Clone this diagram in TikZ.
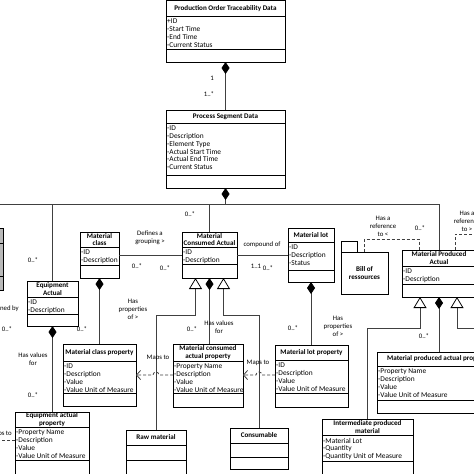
\documentclass[tikz,border=0pt]{standalone}
\usepackage{fontspec}
\setmainfont{Carlito}
\usetikzlibrary{arrows.meta,calc}
\tikzset{
 umlbox/.style={draw=black, line width=0.8pt, inner sep=0pt, outer sep=0pt},
 ttl/.style={font=\bfseries\fontsize{7.1}{7.9}\selectfont, align=center, inner sep=0pt},
 attr/.style={font=\fontsize{7.4}{7.8}\selectfont, align=left, inner xsep=1pt, inner ysep=2.8pt, anchor=north west},
 lbl/.style={font=\fontsize{6.8}{8}\selectfont, align=center, inner sep=0pt},
 conn/.style={draw=black!75, line width=0.8pt},
 comp/.style={conn, {Diamond[length=12pt,width=8pt,color=black]}-},
 gen/.style={conn, {Triangle[open,length=11pt,width=13pt,color=black]}-},
 mapsto/.style={conn, dash pattern=on 3pt off 2pt, -{Straight Barb[length=4pt,width=9pt]}},
 refline/.style={conn, dash pattern=on 3pt off 2pt},
}
\newcommand{\umlclass}[9]{%
 \node[umlbox, minimum width={(#4-#2)*1pt}, minimum height={(#5-#3)*1pt}, anchor=north west] (#1) at (#2,#3) {};
 \draw[line width=0.8pt] (#2,#6) -- (#4,#6) (#2,#7) -- (#4,#7);
 \node[ttl] (#1-t) at ({(#2+#4)/2},{(#3+#6)/2}) {#8};
 \node[attr] (#1-a) at (#2,#6) {#9};
}
\begin{document}
\begin{tikzpicture}[x=1pt,y=-1pt]
\useasboundingbox (0,0) rectangle (474,474);
\fill[white] (0,0) rectangle (474,474);
\clip (0,0) rectangle (474,474);

% classes
\umlclass{ptd}{166}{0.5}{285}{62}{16}{49}{Production Order Traceability Data}{+ID\\-Start Time\\-End Time\\-Current Status}
\umlclass{psd}{166}{110}{285}{188}{123}{175}{Process Segment Data}{-ID\\-Description\\-Element Type\\-Actual Start Time\\-Actual End Time\\-Current Status}
\umlclass{ea}{27}{281}{78}{326}{297}{314}{Equipment\\Actual}{-ID\\-Description}
\umlclass{mc}{80}{232}{119}{278}{247}{265}{Material\\class}{-ID\\-Description}
\umlclass{mca}{182}{232}{237}{278}{247}{264}{Material\\Consumed Actual}{-ID\\-Description}
\umlclass{ml}{288}{228}{334}{282}{242}{270}{Material lot}{-ID\\-Description\\-Status}
\umlclass{mpa}{402}{250}{476}{297}{266}{284}{Material Produced\\Actual}{-ID\\-Description}
\umlclass{mcp}{63}{344}{136}{406}{361}{393}{Material class property}{-ID\\-Description\\-Value\\-Value Unit of Measure}
\umlclass{mcap}{173}{344}{243}{407}{361}{393}{Material consumed\\actual property}{-Property Name\\-Description\\-Value\\-Value Unit of Measure}
\umlclass{mlp}{275}{345}{348}{407}{360}{393}{Material lot property}{-ID\\-Description\\-Value\\-Value Unit of Measure}
\umlclass{mpap}{377}{352}{499}{413}{366}{400}{Material produced actual property}{-Property Name\\-Description\\-Value\\-Value Unit of Measure}
\umlclass{eap}{15}{412}{89}{476}{427}{460}{Equipment actual\\property}{-Property Name\\-Description\\-Value\\-Value Unit of Measure}
\umlclass{raw}{126}{430}{186}{478}{445}{460}{Raw material}{}
\umlclass{cons}{230}{428}{288}{469}{443}{457}{Consumable}{}
\umlclass{ipm}{322}{419}{413}{478}{435}{461}{Intermediate produced\\material}{-Material Lot\\-Quantity\\-Quantity Unit of Measure}

% left cut-off box
\node[umlbox, fill=gray!55, minimum width=23pt, minimum height=62pt, anchor=north west] (lft) at (-20,228) {};
\draw[line width=0.8pt] (-20,243) -- (3,243) (-20,276) -- (3,276);

% bill of ressources (package)
\node[umlbox, minimum width=47pt, minimum height=42pt, anchor=north west] (bor) at (341,252) {};
\draw[line width=0.8pt] (bor.north west) rectangle ++(16,-11);
\node[ttl] (bor-t) at (bor.center) {Bill of\\ressources};

% connectors
\coordinate (busL) at (0,204);
\draw[conn] (busL) -| (mpa.north);
\draw[conn] (ea.north) -- (ea.north |- busL);
\draw[conn] (mca.north) -- (mca.north |- busL);
\draw[comp] (psd.south) -- (psd.south |- busL);
\draw[comp] (ptd.south) -- (psd.north);
\draw[conn] (mc.east) -- (mca.west);
\draw[conn] (mca.east) -- (ml.west);
\draw[comp] (mc.south) -- (mcp.north);
\draw[comp] (ml.south) -- (ml.south |- mlp.north);
\draw[comp] (mca.south) -- (mca.south |- mcap.north);
\draw[gen] ([xshift=-14pt]mca.south) -- ++(0,37) -| (raw.north);
\draw[gen] ([xshift=14pt]mca.south) -- ++(0,37) -| (cons.north);
\draw[comp] (ea.south) -- (ea.south |- eap.north);
\draw[gen] ([xshift=-19pt]mpa.south) -- ++(0,31) -| (ipm.north);
\draw[comp] (mpa.south) -- (mpa.south |- mpap.north);
\coordinate (mpaR) at (480,328);
\draw[gen] ([xshift=18pt]mpa.south) |- (mpaR);

% reference (dashed)
\draw[refline] (bor.north) -- ++(0,-13) -| ([xshift=-20pt]mpa.north);
\coordinate (refR) at (480,234);
\draw[refline] ([xshift=16pt]mpa.north) |- (refR);

% maps to
\coordinate (mrow) at (0,375);
\draw[mapsto] (mlp.west |- mrow) -- (262,375) arc[start angle=0,end angle=-180,radius=3] -- (mcap.east |- mrow);
\draw[mapsto] (mcap.west |- mrow) -- (159,375) arc[start angle=0,end angle=-180,radius=3] -- (mcp.east |- mrow);
\coordinate (eapL) at (-5,440);
\draw[refline] (eap.west |- eapL) -- (eapL);

% labels
\node[lbl] at (212,78) {1};
\node[lbl] at (209,94) {1..*};
\node[lbl] at (190,214) {0..*};
\node[lbl] at (33,260) {0..*};
\node[lbl] at (150,238) {Defines a\\grouping >};
\node[lbl] at (137,266) {0..*};
\node[lbl] at (165,268) {0..*};
\node[lbl] at (262,245) {compound of};
\node[lbl] at (256,266) {1..1};
\node[lbl] at (268,268) {0..*};
\node[lbl] at (383,226) {Has a\\reference\\to <};
\node[lbl] at (420,228) {0..*};
\node[lbl] at (467,221) {Has a\\reference\\to >};
\node[lbl] at (133,309) {Has\\properties\\of >};
\node[lbl] at (338,326) {Has\\properties\\of >};
\node[lbl] at (219,327) {Has values\\for};
\node[lbl] at (33,359) {Has values\\for};
\node[lbl] at (7,329) {0..*};
\node[lbl] at (82,329) {0..*};
\node[lbl] at (33,395) {0..*};
\node[lbl] at (192,329) {0..*};
\node[lbl] at (293,328) {0..*};
\node[lbl] at (424,336) {0..*};
\node[lbl] at (158,358) {Maps to};
\node[lbl] at (258,363) {Maps to};
\node[lbl, anchor=east] at (12,434) {Maps to};
\node[lbl, anchor=east] at (19,309) {Is defined by};
\end{tikzpicture}
\end{document}
